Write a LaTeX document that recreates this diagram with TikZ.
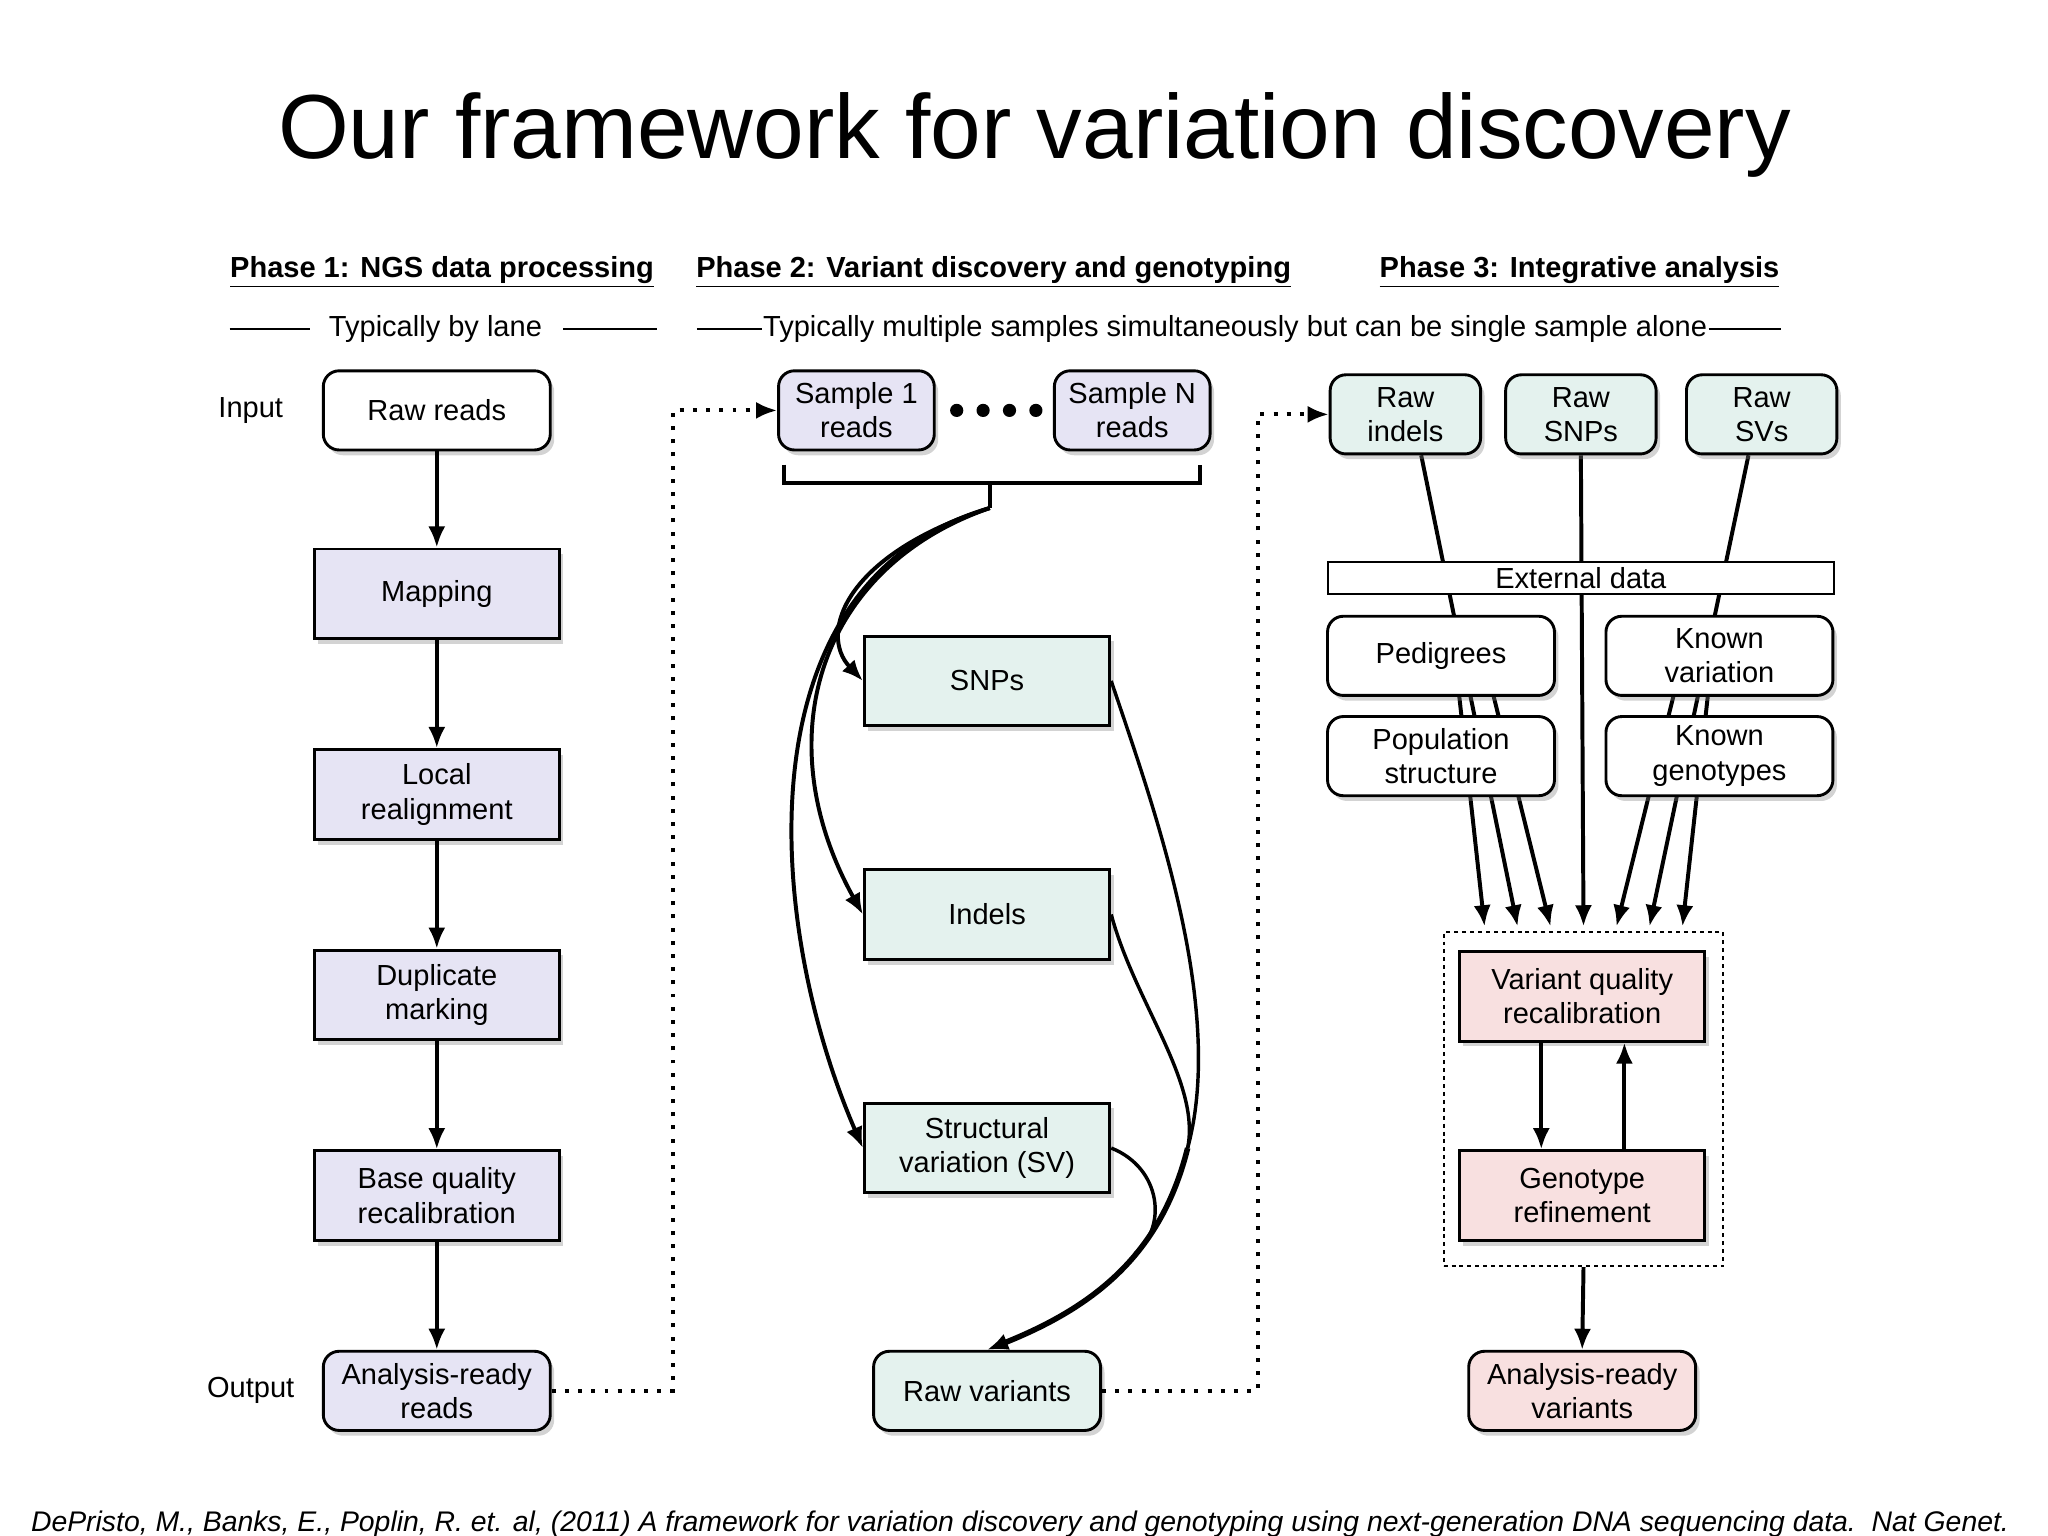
\documentclass[tikz,border=0pt]{standalone}
\usepackage{fontspec}
\setmainfont{Liberation Sans}
\usetikzlibrary{shadows,backgrounds,arrows.meta}

\definecolor{lav}{HTML}{E6E4F4}
\definecolor{mint}{HTML}{E4F2EE}
\definecolor{rose}{HTML}{F8E0E0}

\tikzset{
  box/.style={draw, line width=2.2pt, minimum width=186pt, minimum height=68pt, align=center,
    font=\fontsize{22}{26}\selectfont, drop shadow={opacity=0.35, shadow xshift=3pt, shadow yshift=-4pt}},
  io/.style={box, rounded corners=12pt, minimum width=172pt, minimum height=60pt},
  arr/.style={-{Latex[length=16pt,width=13pt]}, line width=3pt},
  dotarr/.style={-{Latex[length=16pt,width=13pt]}, line width=3pt, dash pattern=on 3pt off 7pt},
  lbl/.style={font=\fontsize{22}{26}\selectfont},
  head/.style={font=\fontsize{22}{26}\selectfont\bfseries}
}

\begin{document}
\begin{tikzpicture}[x=1pt, y=-1pt]
\useasboundingbox (0,0) rectangle (1552,1164);

% title and headings
\node[font=\fontsize{69}{75}\selectfont] (title) at (784,102) {Our framework for variation discovery};
\node[head] (h1) at (335,206) {\underline{Phase 1: NGS data processing}};
\node[head] (h2) at (753,206) {\underline{Phase 2: Variant discovery and genotyping}};
\node[head] (h3) at (1197,206) {\underline{Phase 3: Integrative analysis}};
\node[lbl, fill=white] (s1) at (330,249) {Typically by lane};
\node[lbl, fill=white, inner sep=1pt] (s2) at (936,249) {Typically multiple samples simultaneously but can be single sample alone};
\draw[line width=1.4pt] (174,249) -- (235,249) (427,249) -- (498,249);
\draw[line width=1.4pt] (528,249) -- (s2.west) (s2.east) -- (1350,249);

% phase 1
\node[lbl] (in) at (190,311) {Input};
\node[lbl] (out) at (190,1054) {Output};
\node[io, fill=white] (raw) at (331,311) {Raw reads};
\node[box, fill=lav] (map) at (331,450) {Mapping};
\node[box, fill=lav] (loc) at (331,602) {Local\\realignment};
\node[box, fill=lav] (dup) at (331,754) {Duplicate\\marking};
\node[box, fill=lav] (bqr) at (331,906) {Base quality\\recalibration};
\node[io, fill=lav] (ready) at (331,1054) {Analysis-ready\\reads};
\draw[arr] (raw) -- (map);
\draw[arr] (map) -- (loc);
\draw[arr] (loc) -- (dup);
\draw[arr] (dup) -- (bqr);
\draw[arr] (bqr) -- (ready);

% phase 2
\node[io, fill=lav, minimum width=118pt] (smp1) at (649,311) {Sample 1\\reads};
\node[io, fill=lav, minimum width=118pt] (smpN) at (858,311) {Sample N\\reads};
\foreach \x in {725,745,765,785} \fill (\x,311) circle (5pt);
\draw[line width=3pt] (594,352) -- (594,366) -- (909,366) -- (909,352);
\coordinate (brace) at (750,385);
\draw[line width=3pt] (750,366) -- (brace);
\node[box, fill=mint] (snp) at (748,516) {SNPs};
\node[box, fill=mint] (ind) at (748,693) {Indels};
\node[box, fill=mint] (sv) at (748,870) {Structural\\variation (SV)};
\node[io, fill=mint] (rawv) at (748,1054) {Raw variants};
\draw[arr] (brace) .. controls (640,420) and (620,480) .. (snp.west);
\draw[arr] (brace) .. controls (620,430) and (580,560) .. (ind.west);
\draw[arr] (brace) .. controls (560,440) and (580,700) .. (sv.west);
\draw[line width=2.6pt] (snp.east) .. controls (870,600) and (930,760) .. (900,870);
\draw[line width=2.6pt] (ind.east) .. controls (860,760) and (910,820) .. (900,870);
\draw[line width=2.6pt] (sv.east) .. controls (880,885) and (885,930) .. (860,950);
\draw[arr, line width=4.2pt] (900,870) .. controls (880,950) and (830,990) .. (rawv.north);
\draw[dotarr] (ready.east) -- (510,1054) -- (510,311) -- (smp1.west);

% phase 3
\node[io, fill=mint, minimum width=114pt] (rind) at (1065,314) {Raw\\indels};
\node[io, fill=mint, minimum width=114pt] (rsnp) at (1198,314) {Raw\\SNPs};
\node[io, fill=mint, minimum width=114pt] (rsv) at (1335,314) {Raw\\SVs};
\draw[dotarr] (rawv.east) -- (953,1054) -- (953,314) -- (rind.west);
\node[draw, line width=1.6pt, fill=white, lbl, minimum width=383pt, minimum height=24pt, inner sep=0pt] (ext) at (1198,438) {External data};
\node[io, fill=white] (ped) at (1092,497) {Pedigrees};
\node[io, fill=white] (kvar) at (1303,497) {Known\\variation};
\node[io, fill=white] (pop) at (1092,573) {Population\\structure};
\node[io, fill=white] (kgen) at (1303,573) {Known\\genotypes};
\node[box, fill=rose] (vqr) at (1199,755) {Variant quality\\recalibration};
\node[box, fill=rose] (gref) at (1199,906) {Genotype\\refinement};
\node[io, fill=rose] (readyv) at (1199,1054) {Analysis-ready\\variants};
\node[draw, dashed, line width=1.6pt, minimum width=212pt, minimum height=253pt] (cal) at (1200,833) {};
\begin{scope}[on background layer]
  \draw[arr] (1077,345) -- (1150,702);
  \draw[arr] (1105,520) -- (1125,702);
  \draw[arr] (1130,520) -- (1175,702);
  \draw[arr] (rsnp.south) -- (1200,702);
  \draw[arr] (1325,345) -- (1250,702);
  \draw[arr] (1270,520) -- (1225,702);
  \draw[arr] (1295,520) -- (1275,702);
\end{scope}
\coordinate (dn) at (1168,0);
\coordinate (up) at (1231,0);
\draw[arr] (dn |- vqr.south) -- (dn |- gref.north);
\draw[arr] (up |- gref.north) -- (up |- vqr.south);
\draw[arr] (cal.south) -- (readyv.north);

% citation
\node[font=\fontsize{21.5}{24}\selectfont\itshape] (cite) at (773,1155) {DePristo, M., Banks, E., Poplin, R. et. al, (2011) A framework for variation discovery and genotyping using next-generation DNA sequencing data.\ \ Nat Genet.};
\end{tikzpicture}
\end{document}
